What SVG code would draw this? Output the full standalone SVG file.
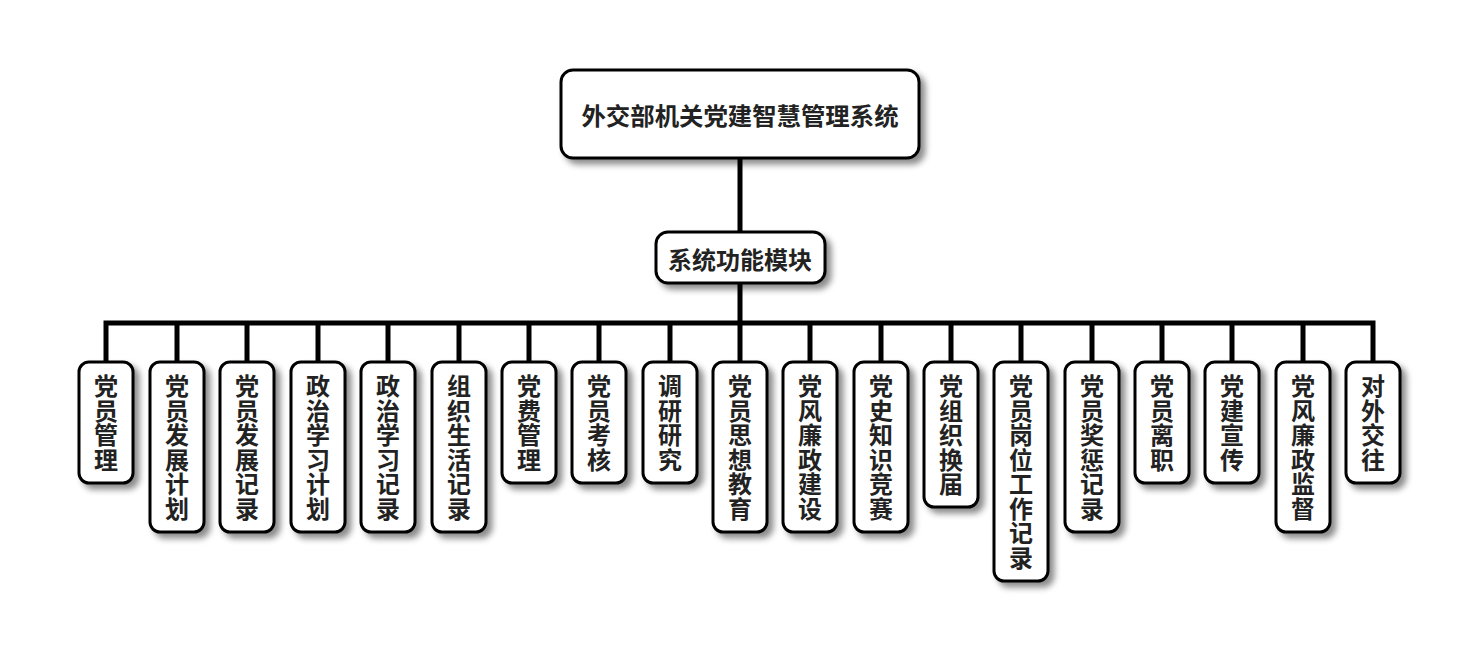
<svg xmlns="http://www.w3.org/2000/svg" width="1480" height="656" viewBox="0 0 1480 656">
<style>
.box{fill:#fff;stroke:#000;stroke-width:3;filter:url(#sh)}
.t{font-family:"Noto Sans CJK SC","Noto Sans",sans-serif;font-weight:bold;fill:#222;text-anchor:middle;dominant-baseline:central}
.v{font-family:"Noto Sans CJK SC","Noto Sans",sans-serif;font-weight:bold;fill:#222;font-size:24px;writing-mode:vertical-rl;text-orientation:upright;letter-spacing:0.5px}
.conn{stroke:#000;stroke-width:5;fill:none}
</style>
<defs>
<filter id="sh" x="-30%" y="-30%" width="170%" height="170%">
<feDropShadow dx="5" dy="5" stdDeviation="3" flood-color="#000" flood-opacity="0.45"/>
</filter>
</defs>
<g id="connectors">
<path class="conn" d="M740 158V232M740 283V323M106 362V323H1373V362M177 323V362M247 323V362M318 323V362M388 323V362M459 323V362M529 323V362M599 323V362M670 323V362M740 323V362M810 323V362M881 323V362M951 323V362M1021 323V362M1092 323V362M1162 323V362M1232 323V362M1303 323V362"/>
</g>
<g id="root"><rect class="box" x="561" y="70" width="358" height="88" rx="12"/><text class="t" x="740" y="114" font-size="24.4">外交部机关党建智慧管理系统</text></g>
<g id="mid"><rect class="box" x="656" y="232" width="169" height="51" rx="12"/><text class="t" x="740" y="258" font-size="24">系统功能模块</text></g>
<g id="n1"><rect class="box" x="79" y="362" width="54" height="121" rx="10"/><text class="v" x="106" y="374">党员管理</text></g>
<g id="n2"><rect class="box" x="150" y="362" width="54" height="170" rx="10"/><text class="v" x="177" y="374">党员发展计划</text></g>
<g id="n3"><rect class="box" x="220" y="362" width="54" height="170" rx="10"/><text class="v" x="247" y="374">党员发展记录</text></g>
<g id="n4"><rect class="box" x="291" y="362" width="54" height="170" rx="10"/><text class="v" x="318" y="374">政治学习计划</text></g>
<g id="n5"><rect class="box" x="361" y="362" width="54" height="170" rx="10"/><text class="v" x="388" y="374">政治学习记录</text></g>
<g id="n6"><rect class="box" x="432" y="362" width="54" height="170" rx="10"/><text class="v" x="459" y="374">组织生活记录</text></g>
<g id="n7"><rect class="box" x="502" y="362" width="54" height="121" rx="10"/><text class="v" x="529" y="374">党费管理</text></g>
<g id="n8"><rect class="box" x="572" y="362" width="54" height="121" rx="10"/><text class="v" x="599" y="374">党员考核</text></g>
<g id="n9"><rect class="box" x="643" y="362" width="54" height="121" rx="10"/><text class="v" x="670" y="374">调研研究</text></g>
<g id="n10"><rect class="box" x="713" y="362" width="54" height="170" rx="10"/><text class="v" x="740" y="374">党员思想教育</text></g>
<g id="n11"><rect class="box" x="783" y="362" width="54" height="170" rx="10"/><text class="v" x="810" y="374">党风廉政建设</text></g>
<g id="n12"><rect class="box" x="854" y="362" width="54" height="170" rx="10"/><text class="v" x="881" y="374">党史知识竞赛</text></g>
<g id="n13"><rect class="box" x="924" y="362" width="54" height="145" rx="10"/><text class="v" x="951" y="374">党组织换届</text></g>
<g id="n14"><rect class="box" x="994" y="362" width="54" height="219" rx="10"/><text class="v" x="1021" y="374">党员岗位工作记录</text></g>
<g id="n15"><rect class="box" x="1065" y="362" width="54" height="170" rx="10"/><text class="v" x="1092" y="374">党员奖惩记录</text></g>
<g id="n16"><rect class="box" x="1135" y="362" width="54" height="121" rx="10"/><text class="v" x="1162" y="374">党员离职</text></g>
<g id="n17"><rect class="box" x="1205" y="362" width="54" height="121" rx="10"/><text class="v" x="1232" y="374">党建宣传</text></g>
<g id="n18"><rect class="box" x="1276" y="362" width="54" height="170" rx="10"/><text class="v" x="1303" y="374">党风廉政监督</text></g>
<g id="n19"><rect class="box" x="1346" y="362" width="54" height="121" rx="10"/><text class="v" x="1373" y="374">对外交往</text></g>
</svg>
